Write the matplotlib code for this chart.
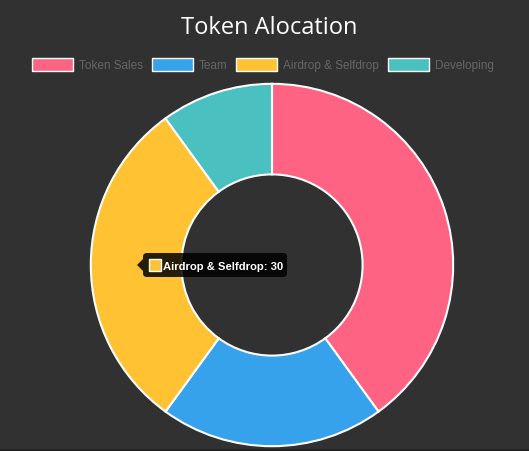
import numpy as np
import matplotlib
matplotlib.use("Agg")
import matplotlib.pyplot as plt
from matplotlib.patches import FancyBboxPatch, Rectangle, Polygon

labels = ["Token Sales", "Team", "Airdrop & Selfdrop", "Developing"]
values = [40, 20, 30, 10]
colors = ["#ff6384", "#36a2eb", "#ffc233", "#4bc0c0"]
title = "Token Alocation"
hover = 2  # slice shown in the tooltip

W, H = 529, 451
BG = "#313131"


def fx(x):
    return x / W


def fy(y):
    return 1 - y / H


fig = plt.figure(figsize=(W / 100, H / 100), dpi=100, facecolor=BG)

# ---- doughnut ----
cx, cy, r = 272, 265, 183
ax = fig.add_axes([fx(cx - r), fy(cy + r), 2 * r / W, 2 * r / H])
ax.set_facecolor(BG)
ax.pie(values, colors=colors, startangle=90, counterclock=False, radius=1,
       wedgeprops=dict(width=0.5, edgecolor="white", linewidth=1.5))
ax.set_xlim(-1.01, 1.01); ax.set_ylim(-1.01, 1.01)
ax.set_aspect("equal")
ax.axis("off")

# ---- title ----
fig.text(fx(269), fy(34), title, ha="center", va="baseline", color="white",
         fontsize=17, family="Open Sans")

# ---- legend ----
box_x = [32, 152, 236, 388]
for x0, lab, col in zip(box_x, labels, colors):
    fig.patches.append(Rectangle((fx(x0), fy(71)), fx(41), 13 / H, facecolor=col,
                                 edgecolor="white", linewidth=1, transform=fig.transFigure))
    fig.text(fx(x0 + 47), fy(69), lab, ha="left", va="baseline", color="#666666",
             fontsize=8.5, family="Liberation Sans")

# ---- tooltip ----
tip = FancyBboxPatch((fx(143), fy(277)), fx(144), 24 / H,
                     boxstyle="round,pad=0,rounding_size=0.008",
                     facecolor="#000000", alpha=0.85, edgecolor="none",
                     transform=fig.transFigure)
fig.patches.append(tip)
fig.patches.append(Polygon([(fx(137), fy(265)), (fx(143), fy(259)), (fx(143), fy(271))],
                           closed=True, facecolor="#000000", alpha=0.85, edgecolor="none",
                           transform=fig.transFigure))
fig.patches.append(Rectangle((fx(149), fy(271)), fx(12), 12 / H, facecolor=colors[hover],
                             edgecolor="white", linewidth=1, transform=fig.transFigure))
fig.text(fx(163), fy(269.5), f"{labels[hover]}: {values[hover]}", ha="left", va="baseline",
         color="white", fontsize=8.1, weight="bold", family="Liberation Sans")

# darker strip at the very bottom
fig.patches.append(Rectangle((0, 0), 1, 2 / H, facecolor="#222222", edgecolor="none",
                             transform=fig.transFigure))

plt.savefig("out.png", dpi=100, facecolor=BG)
